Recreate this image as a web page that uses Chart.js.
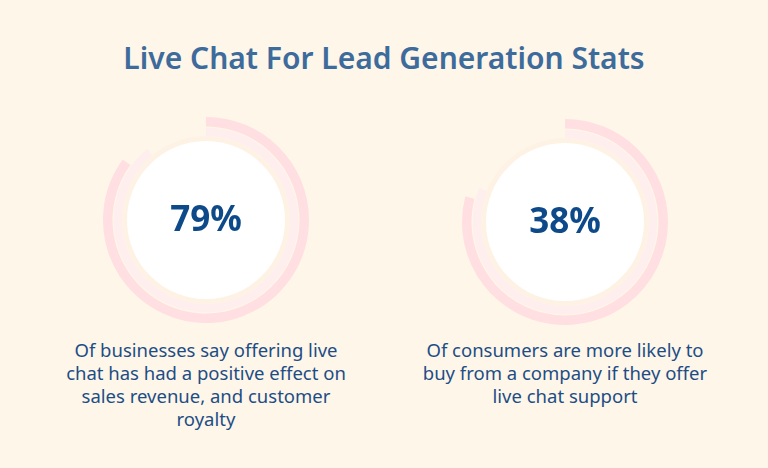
<!DOCTYPE html>
<html>
<head>
<meta charset="utf-8">
<script src="https://cdn.jsdelivr.net/npm/chart.js@4"></script>
<style>
  body { margin: 0; width: 768px; height: 468px; background: #fef6e9; font-family: "Noto Sans", sans-serif; position: relative; overflow: hidden; }
  h1 { position: absolute; top: 37px; left: 0; width: 768px; margin: 0; text-align: center; font-size: 30px; font-weight: 600; color: #3d6b9b; }
  .box { position: absolute; width: 220px; height: 220px; }
  .num { position: absolute; width: 220px; top: 86px; text-align: center; font-size: 35px; font-weight: 700; color: #0e4a8a; line-height: 44px; }
  .cap { position: absolute; top: 338px; width: 300px; text-align: center; font-size: 18.5px; line-height: 23px; color: #1d4d85; }
</style>
</head>
<body>
<h1>Live Chat For Lead Generation Stats</h1>
<div class="box" style="left:96px; top:110px"><canvas id="c0" width="220" height="220"></canvas><div class="num" id="n0"></div></div>
<div class="box" style="left:455px; top:112px"><canvas id="c1" width="220" height="220"></canvas><div class="num" id="n1"></div></div>
<div class="cap" id="t0" style="left:56px"></div>
<div class="cap" id="t1" style="left:415px"></div>
<script>
const stats = ["79%", "38%"];
const captions = [
  "Of businesses say offering live chat has had a positive effect on sales revenue, and customer royalty",
  "Of consumers are more likely to buy from a company if they offer live chat support"
];
const outerRing = [85, 79];
const innerRing = [89, 81];

const whiteCenter = {
  id: "whiteCenter",
  afterDatasetsDraw(chart) {
    const meta = chart.getDatasetMeta(0).data[0];
    const ctx = chart.ctx;
    ctx.save();
    ctx.fillStyle = "#ffffff";
    ctx.beginPath();
    ctx.arc(meta.x, meta.y, 79, 0, Math.PI * 2);
    ctx.fill();
    ctx.restore();
  }
};

stats.forEach((s, i) => {
  document.getElementById("n" + i).textContent = s;
  document.getElementById("t" + i).textContent = captions[i];
  new Chart(document.getElementById("c" + i), {
    type: "doughnut",
    data: {
      datasets: [
        { data: [outerRing[i], 100 - outerRing[i]], backgroundColor: ["#ffdfe1", "rgba(0,0,0,0)"], weight: 8 },
        { data: [100], backgroundColor: ["rgba(0,0,0,0)"], weight: 1 },
        { data: [innerRing[i], 100 - innerRing[i]], backgroundColor: ["#ffeeee", "rgba(0,0,0,0)"], weight: 7 },
        { data: [100], backgroundColor: ["#fef2e4"], weight: 10 }
      ]
    },
    options: {
      responsive: false,
      animation: false,
      radius: 103,
      cutout: 77,
      borderWidth: 0,
      layout: { padding: 0 },
      plugins: { legend: { display: false }, tooltip: { enabled: false } }
    },
    plugins: [whiteCenter]
  });
});
</script>
</body>
</html>
